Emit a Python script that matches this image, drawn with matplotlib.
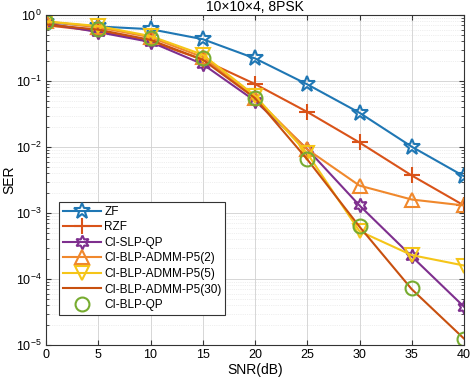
import matplotlib.pyplot as plt
from matplotlib.ticker import LogLocator, NullFormatter

plt.rcParams['font.family'] = ['Liberation Sans', 'DejaVu Sans']

snr = [0, 5, 10, 15, 20, 25, 30, 35, 40]

ser_zf = [0.78, 0.67, 0.61, 0.43, 0.22, 0.089, 0.033, 0.0101, 0.0036]
ser_rzf = [0.70, 0.57, 0.40, 0.21, 0.09, 0.034, 0.0117, 0.0037, 0.0013]
ser_slp = [0.75, 0.55, 0.39, 0.18, 0.05, 0.0093, 0.0013, 2.2e-4, 3.8e-5]
ser_p2 = [0.80, 0.65, 0.46, 0.23, 0.056, 0.0092, 0.0026, 0.0016, 0.0013]
ser_p5 = [0.80, 0.68, 0.48, 0.25, 0.06, 0.0080, 5.3e-4, 2.3e-4, 1.6e-4]
ser_p30 = [0.72, 0.60, 0.42, 0.21, 0.055, 0.0065, 6.2e-4, 7.0e-5, 1.25e-5]
ser_qp = [0.78, 0.62, 0.45, 0.225, 0.055, 0.0066, 6.3e-4, 7.2e-5, 1.25e-5]

fig = plt.figure(figsize=(4.74, 3.86), dpi=100)
ax = fig.add_axes([46 / 474, 1 - 345 / 386, 418 / 474, 330 / 386])

lw = 1.5
ax.semilogy(snr, ser_zf, '-', marker='*', color='#1f77b4', lw=lw, ms=12,
            mfc='none', mew=1.5, label='ZF')
ax.semilogy(snr, ser_rzf, '-', marker='+', color='#D95319', lw=lw, ms=11,
            mew=1.5, label='RZF')
ax.semilogy(snr, ser_slp, '-', marker=(6, 1, 0), color='#7E2F8E', lw=lw, ms=10,
            mfc='none', mew=1.5, label='CI-SLP-QP')
ax.semilogy(snr, ser_p2, '-', marker='^', color='#F0882C', lw=lw, ms=10,
            mfc='none', mew=1.5, label='CI-BLP-ADMM-P5(2)')
ax.semilogy(snr, ser_p5, '-', marker='v', color='#F5C518', lw=lw, ms=10,
            mfc='none', mew=1.5, label='CI-BLP-ADMM-P5(5)')
ax.semilogy(snr, ser_p30, '-', color='#C8500F', lw=lw, label='CI-BLP-ADMM-P5(30)')
ax.semilogy(snr, ser_qp, 'o', color='#77AC30', ms=10, mfc='none', mew=1.5,
            label='CI-BLP-QP')

ax.set_xlim(0, 40)
ax.set_ylim(1e-5, 1)
ax.set_xticks(snr)
ax.yaxis.set_major_locator(LogLocator(base=10, numticks=10))
ax.yaxis.set_minor_locator(LogLocator(base=10, subs=range(2, 10), numticks=10))
ax.yaxis.set_minor_formatter(NullFormatter())

ax.grid(True, which='major', color='#d0d0d0', lw=0.6)
ax.grid(True, which='minor', axis='y', color='#e0e0e0', lw=0.5, ls=':')
ax.tick_params(direction='in', which='both', top=True, right=True,
               labelsize=9, color='#333333', pad=3)
for s in ax.spines.values():
    s.set_color('#333333')
    s.set_linewidth(0.8)

ax.set_xlabel('SNR(dB)', fontsize=10, labelpad=1)
ax.set_ylabel('SER', fontsize=10, labelpad=0)
ax.set_title('10\u00d710\u00d74, 8PSK', fontsize=10, pad=3)

leg = ax.legend(loc='lower left', bbox_to_anchor=(0.032, 0.092), fontsize=8.5,
                fancybox=False, framealpha=1, edgecolor='#333333',
                handlelength=3.2, borderpad=0.3, labelspacing=0.3,
                handletextpad=0.3, borderaxespad=0)
leg.get_frame().set_linewidth(0.8)

fig.savefig('out.png', dpi=100)
